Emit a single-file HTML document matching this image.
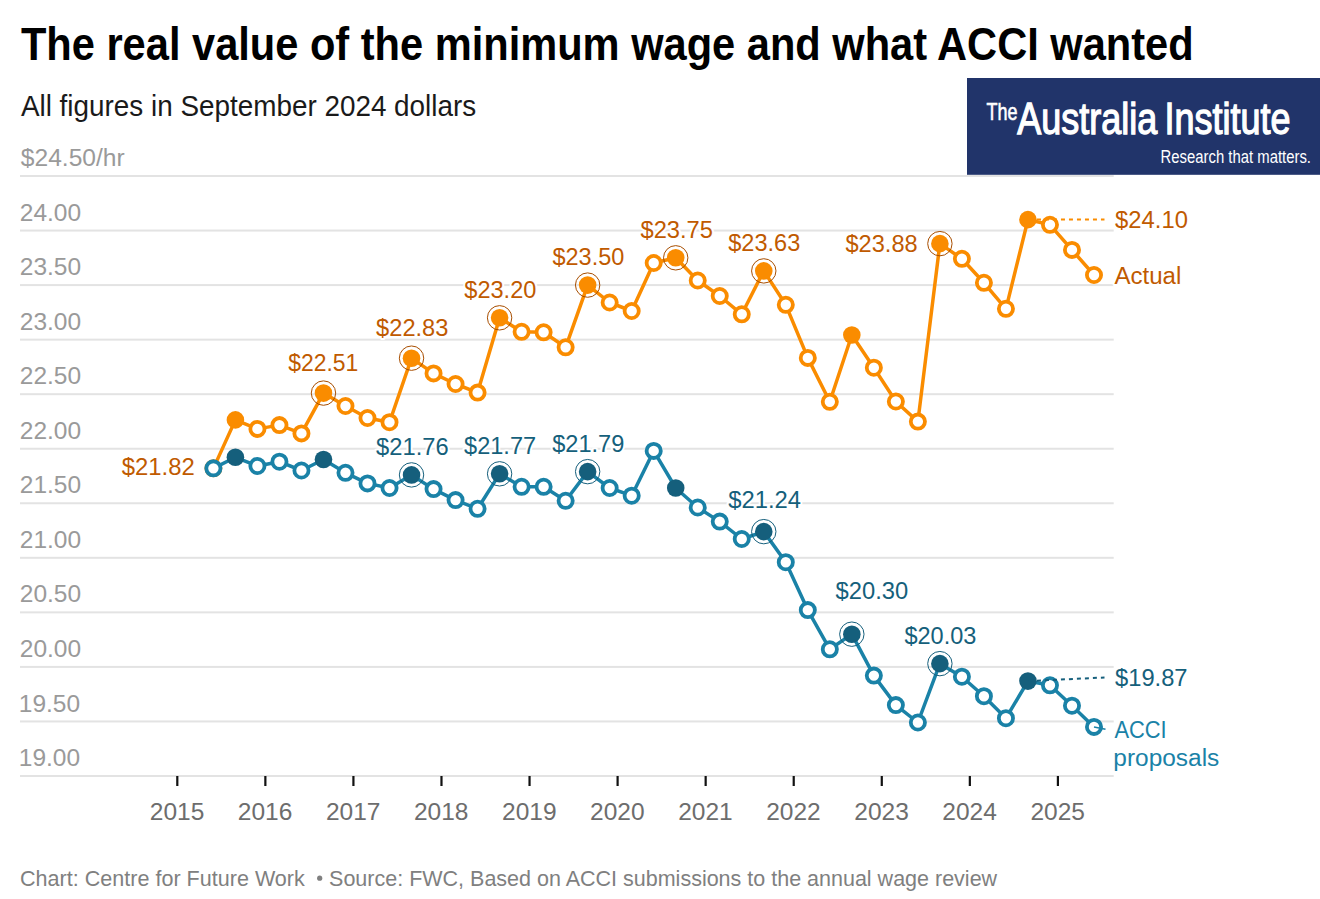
<!DOCTYPE html>
<html><head><meta charset="utf-8"><style>
html,body{margin:0;padding:0;background:#fff;width:1320px;height:899px;overflow:hidden;}
svg{display:block;}
</style></head><body>
<svg width="1320" height="899" viewBox="0 0 1320 899">
<text transform="translate(20.90,60.00) scale(0.9083,1)" font-family="Liberation Sans, sans-serif" font-size="45.8" font-weight="bold" fill="#000" >The real value of the minimum wage and what ACCI wanted</text>
<text transform="translate(20.90,115.80) scale(0.9677,1)" font-family="Liberation Sans, sans-serif" font-size="28.8" font-weight="normal" fill="#1a1a1a" >All figures in September 2024 dollars</text>
<rect x="20" y="175.00" width="1093.7" height="2" fill="#e3e3e3"/>
<rect x="20" y="229.55" width="1093.7" height="2" fill="#e3e3e3"/>
<rect x="20" y="284.09" width="1093.7" height="2" fill="#e3e3e3"/>
<rect x="20" y="338.64" width="1093.7" height="2" fill="#e3e3e3"/>
<rect x="20" y="393.18" width="1093.7" height="2" fill="#e3e3e3"/>
<rect x="20" y="447.73" width="1093.7" height="2" fill="#e3e3e3"/>
<rect x="20" y="502.27" width="1093.7" height="2" fill="#e3e3e3"/>
<rect x="20" y="556.82" width="1093.7" height="2" fill="#e3e3e3"/>
<rect x="20" y="611.36" width="1093.7" height="2" fill="#e3e3e3"/>
<rect x="20" y="665.91" width="1093.7" height="2" fill="#e3e3e3"/>
<rect x="20" y="720.45" width="1093.7" height="2" fill="#e3e3e3"/>
<rect x="20" y="775.00" width="1093.7" height="2" fill="#e3e3e3"/>
<text transform="translate(20.80,165.80) scale(1.0039,1)" font-family="Liberation Sans, sans-serif" font-size="24.5" font-weight="normal" fill="#9a9a9a" >$24.50/hr</text>
<text x="19.80" y="220.65" font-family="Liberation Sans, sans-serif" font-size="24.5" font-weight="normal" fill="#9a9a9a">24.00</text>
<text x="19.80" y="275.19" font-family="Liberation Sans, sans-serif" font-size="24.5" font-weight="normal" fill="#9a9a9a">23.50</text>
<text x="19.80" y="329.74" font-family="Liberation Sans, sans-serif" font-size="24.5" font-weight="normal" fill="#9a9a9a">23.00</text>
<text x="19.80" y="384.28" font-family="Liberation Sans, sans-serif" font-size="24.5" font-weight="normal" fill="#9a9a9a">22.50</text>
<text x="19.80" y="438.83" font-family="Liberation Sans, sans-serif" font-size="24.5" font-weight="normal" fill="#9a9a9a">22.00</text>
<text x="19.80" y="493.37" font-family="Liberation Sans, sans-serif" font-size="24.5" font-weight="normal" fill="#9a9a9a">21.50</text>
<text x="19.80" y="547.92" font-family="Liberation Sans, sans-serif" font-size="24.5" font-weight="normal" fill="#9a9a9a">21.00</text>
<text x="19.80" y="602.46" font-family="Liberation Sans, sans-serif" font-size="24.5" font-weight="normal" fill="#9a9a9a">20.50</text>
<text x="19.80" y="657.01" font-family="Liberation Sans, sans-serif" font-size="24.5" font-weight="normal" fill="#9a9a9a">20.00</text>
<text x="18.80" y="711.55" font-family="Liberation Sans, sans-serif" font-size="24.5" font-weight="normal" fill="#9a9a9a">19.50</text>
<text x="18.80" y="766.10" font-family="Liberation Sans, sans-serif" font-size="24.5" font-weight="normal" fill="#9a9a9a">19.00</text>
<text x="149.80" y="820.10" font-family="Liberation Sans, sans-serif" font-size="24.5" font-weight="normal" fill="#6d6d6d">2015</text>
<text x="237.86" y="820.10" font-family="Liberation Sans, sans-serif" font-size="24.5" font-weight="normal" fill="#6d6d6d">2016</text>
<text x="325.92" y="820.10" font-family="Liberation Sans, sans-serif" font-size="24.5" font-weight="normal" fill="#6d6d6d">2017</text>
<text x="413.98" y="820.10" font-family="Liberation Sans, sans-serif" font-size="24.5" font-weight="normal" fill="#6d6d6d">2018</text>
<text x="502.04" y="820.10" font-family="Liberation Sans, sans-serif" font-size="24.5" font-weight="normal" fill="#6d6d6d">2019</text>
<text x="590.10" y="820.10" font-family="Liberation Sans, sans-serif" font-size="24.5" font-weight="normal" fill="#6d6d6d">2020</text>
<text x="678.16" y="820.10" font-family="Liberation Sans, sans-serif" font-size="24.5" font-weight="normal" fill="#6d6d6d">2021</text>
<text x="766.22" y="820.10" font-family="Liberation Sans, sans-serif" font-size="24.5" font-weight="normal" fill="#6d6d6d">2022</text>
<text x="854.28" y="820.10" font-family="Liberation Sans, sans-serif" font-size="24.5" font-weight="normal" fill="#6d6d6d">2023</text>
<text x="942.34" y="820.10" font-family="Liberation Sans, sans-serif" font-size="24.5" font-weight="normal" fill="#6d6d6d">2024</text>
<text x="1030.40" y="820.10" font-family="Liberation Sans, sans-serif" font-size="24.5" font-weight="normal" fill="#6d6d6d">2025</text>
<rect x="176.20" y="776" width="2.2" height="10" fill="#111"/>
<rect x="264.26" y="776" width="2.2" height="10" fill="#111"/>
<rect x="352.32" y="776" width="2.2" height="10" fill="#111"/>
<rect x="440.38" y="776" width="2.2" height="10" fill="#111"/>
<rect x="528.44" y="776" width="2.2" height="10" fill="#111"/>
<rect x="616.50" y="776" width="2.2" height="10" fill="#111"/>
<rect x="704.56" y="776" width="2.2" height="10" fill="#111"/>
<rect x="792.62" y="776" width="2.2" height="10" fill="#111"/>
<rect x="880.68" y="776" width="2.2" height="10" fill="#111"/>
<rect x="968.74" y="776" width="2.2" height="10" fill="#111"/>
<rect x="1056.80" y="776" width="2.2" height="10" fill="#111"/>
<path d="M213.4,468.36 L235.42,419.9 L257.43,428.9 L279.44,425.1 L301.46,433.4 L323.48,393.09 L345.49,406 L367.5,418 L389.52,422.2 L411.53,358.18 L433.55,373.4 L455.57,384 L477.58,392.6 L499.6,317.82 L521.61,331.8 L543.62,332.3 L565.64,347.3 L587.65,285.09 L609.67,302.5 L631.69,311 L653.7,263 L675.72,257.82 L697.73,280.5 L719.75,296 L741.76,314.3 L763.77,270.91 L785.79,304.8 L807.8,357.9 L829.82,401.8 L851.84,335 L873.85,367.7 L895.87,401.5 L917.88,421.6 L939.89,243.64 L961.91,258.8 L983.92,282.8 L1005.94,308.8 L1027.96,219.64 L1049.97,224.8 L1071.99,249.9 L1094.0,275" fill="none" stroke="#fa8c00" stroke-width="3.5" stroke-linejoin="round"/>
<circle cx="213.4" cy="468.36" r="7.1" fill="#fff" stroke="#fa8c00" stroke-width="3.8"/>
<circle cx="235.42" cy="419.9" r="8.8" fill="#fa8c00"/>
<circle cx="257.43" cy="428.9" r="7.1" fill="#fff" stroke="#fa8c00" stroke-width="3.8"/>
<circle cx="279.44" cy="425.1" r="7.1" fill="#fff" stroke="#fa8c00" stroke-width="3.8"/>
<circle cx="301.46" cy="433.4" r="7.1" fill="#fff" stroke="#fa8c00" stroke-width="3.8"/>
<circle cx="323.48" cy="393.09" r="8.8" fill="#fa8c00"/>
<circle cx="345.49" cy="406" r="7.1" fill="#fff" stroke="#fa8c00" stroke-width="3.8"/>
<circle cx="367.5" cy="418" r="7.1" fill="#fff" stroke="#fa8c00" stroke-width="3.8"/>
<circle cx="389.52" cy="422.2" r="7.1" fill="#fff" stroke="#fa8c00" stroke-width="3.8"/>
<circle cx="411.53" cy="358.18" r="8.8" fill="#fa8c00"/>
<circle cx="433.55" cy="373.4" r="7.1" fill="#fff" stroke="#fa8c00" stroke-width="3.8"/>
<circle cx="455.57" cy="384" r="7.1" fill="#fff" stroke="#fa8c00" stroke-width="3.8"/>
<circle cx="477.58" cy="392.6" r="7.1" fill="#fff" stroke="#fa8c00" stroke-width="3.8"/>
<circle cx="499.6" cy="317.82" r="8.8" fill="#fa8c00"/>
<circle cx="521.61" cy="331.8" r="7.1" fill="#fff" stroke="#fa8c00" stroke-width="3.8"/>
<circle cx="543.62" cy="332.3" r="7.1" fill="#fff" stroke="#fa8c00" stroke-width="3.8"/>
<circle cx="565.64" cy="347.3" r="7.1" fill="#fff" stroke="#fa8c00" stroke-width="3.8"/>
<circle cx="587.65" cy="285.09" r="8.8" fill="#fa8c00"/>
<circle cx="609.67" cy="302.5" r="7.1" fill="#fff" stroke="#fa8c00" stroke-width="3.8"/>
<circle cx="631.69" cy="311" r="7.1" fill="#fff" stroke="#fa8c00" stroke-width="3.8"/>
<circle cx="653.7" cy="263" r="7.1" fill="#fff" stroke="#fa8c00" stroke-width="3.8"/>
<circle cx="675.72" cy="257.82" r="8.8" fill="#fa8c00"/>
<circle cx="697.73" cy="280.5" r="7.1" fill="#fff" stroke="#fa8c00" stroke-width="3.8"/>
<circle cx="719.75" cy="296" r="7.1" fill="#fff" stroke="#fa8c00" stroke-width="3.8"/>
<circle cx="741.76" cy="314.3" r="7.1" fill="#fff" stroke="#fa8c00" stroke-width="3.8"/>
<circle cx="763.77" cy="270.91" r="8.8" fill="#fa8c00"/>
<circle cx="785.79" cy="304.8" r="7.1" fill="#fff" stroke="#fa8c00" stroke-width="3.8"/>
<circle cx="807.8" cy="357.9" r="7.1" fill="#fff" stroke="#fa8c00" stroke-width="3.8"/>
<circle cx="829.82" cy="401.8" r="7.1" fill="#fff" stroke="#fa8c00" stroke-width="3.8"/>
<circle cx="851.84" cy="335" r="8.8" fill="#fa8c00"/>
<circle cx="873.85" cy="367.7" r="7.1" fill="#fff" stroke="#fa8c00" stroke-width="3.8"/>
<circle cx="895.87" cy="401.5" r="7.1" fill="#fff" stroke="#fa8c00" stroke-width="3.8"/>
<circle cx="917.88" cy="421.6" r="7.1" fill="#fff" stroke="#fa8c00" stroke-width="3.8"/>
<circle cx="939.89" cy="243.64" r="8.8" fill="#fa8c00"/>
<circle cx="961.91" cy="258.8" r="7.1" fill="#fff" stroke="#fa8c00" stroke-width="3.8"/>
<circle cx="983.92" cy="282.8" r="7.1" fill="#fff" stroke="#fa8c00" stroke-width="3.8"/>
<circle cx="1005.94" cy="308.8" r="7.1" fill="#fff" stroke="#fa8c00" stroke-width="3.8"/>
<circle cx="1027.96" cy="219.64" r="8.8" fill="#fa8c00"/>
<circle cx="1049.97" cy="224.8" r="7.1" fill="#fff" stroke="#fa8c00" stroke-width="3.8"/>
<circle cx="1071.99" cy="249.9" r="7.1" fill="#fff" stroke="#fa8c00" stroke-width="3.8"/>
<circle cx="1094.0" cy="275" r="7.1" fill="#fff" stroke="#fa8c00" stroke-width="3.8"/>
<circle cx="939.89" cy="243.64" r="12.2" fill="none" stroke="#a84e00" stroke-width="1"/>
<circle cx="587.65" cy="285.09" r="12.2" fill="none" stroke="#a84e00" stroke-width="1"/>
<circle cx="323.48" cy="393.09" r="12.2" fill="none" stroke="#a84e00" stroke-width="1"/>
<circle cx="675.72" cy="257.82" r="12.2" fill="none" stroke="#a84e00" stroke-width="1"/>
<circle cx="411.53" cy="358.18" r="12.2" fill="none" stroke="#a84e00" stroke-width="1"/>
<circle cx="499.6" cy="317.82" r="12.2" fill="none" stroke="#a84e00" stroke-width="1"/>
<circle cx="763.77" cy="270.91" r="12.2" fill="none" stroke="#a84e00" stroke-width="1"/>
<path d="M213.4,468.36 L235.42,457.3 L257.43,466 L279.44,461.7 L301.46,470.5 L323.48,459.5 L345.49,472.8 L367.5,483.4 L389.52,488 L411.53,474.91 L433.55,489.1 L455.57,500.1 L477.58,508.8 L499.6,473.82 L521.61,486.8 L543.62,486.8 L565.64,500.8 L587.65,471.64 L609.67,488 L631.69,495.7 L653.7,450.9 L675.72,488 L697.73,507.5 L719.75,521.6 L741.76,539 L763.77,531.64 L785.79,562.2 L807.8,610.1 L829.82,649.3 L851.84,634.18 L873.85,675.6 L895.87,705.1 L917.88,722.5 L939.89,663.64 L961.91,676.7 L983.92,696.2 L1005.94,718.2 L1027.96,681.09 L1049.97,685.3 L1071.99,705.7 L1094.0,726.9" fill="none" stroke="#1a82a7" stroke-width="3.5" stroke-linejoin="round"/>
<circle cx="213.4" cy="468.36" r="7.1" fill="#fff" stroke="#1a82a7" stroke-width="3.8"/>
<circle cx="235.42" cy="457.3" r="8.8" fill="#155f7c"/>
<circle cx="257.43" cy="466" r="7.1" fill="#fff" stroke="#1a82a7" stroke-width="3.8"/>
<circle cx="279.44" cy="461.7" r="7.1" fill="#fff" stroke="#1a82a7" stroke-width="3.8"/>
<circle cx="301.46" cy="470.5" r="7.1" fill="#fff" stroke="#1a82a7" stroke-width="3.8"/>
<circle cx="323.48" cy="459.5" r="8.8" fill="#155f7c"/>
<circle cx="345.49" cy="472.8" r="7.1" fill="#fff" stroke="#1a82a7" stroke-width="3.8"/>
<circle cx="367.5" cy="483.4" r="7.1" fill="#fff" stroke="#1a82a7" stroke-width="3.8"/>
<circle cx="389.52" cy="488" r="7.1" fill="#fff" stroke="#1a82a7" stroke-width="3.8"/>
<circle cx="411.53" cy="474.91" r="8.8" fill="#155f7c"/>
<circle cx="433.55" cy="489.1" r="7.1" fill="#fff" stroke="#1a82a7" stroke-width="3.8"/>
<circle cx="455.57" cy="500.1" r="7.1" fill="#fff" stroke="#1a82a7" stroke-width="3.8"/>
<circle cx="477.58" cy="508.8" r="7.1" fill="#fff" stroke="#1a82a7" stroke-width="3.8"/>
<circle cx="499.6" cy="473.82" r="8.8" fill="#155f7c"/>
<circle cx="521.61" cy="486.8" r="7.1" fill="#fff" stroke="#1a82a7" stroke-width="3.8"/>
<circle cx="543.62" cy="486.8" r="7.1" fill="#fff" stroke="#1a82a7" stroke-width="3.8"/>
<circle cx="565.64" cy="500.8" r="7.1" fill="#fff" stroke="#1a82a7" stroke-width="3.8"/>
<circle cx="587.65" cy="471.64" r="8.8" fill="#155f7c"/>
<circle cx="609.67" cy="488" r="7.1" fill="#fff" stroke="#1a82a7" stroke-width="3.8"/>
<circle cx="631.69" cy="495.7" r="7.1" fill="#fff" stroke="#1a82a7" stroke-width="3.8"/>
<circle cx="653.7" cy="450.9" r="7.1" fill="#fff" stroke="#1a82a7" stroke-width="3.8"/>
<circle cx="675.72" cy="488" r="8.8" fill="#155f7c"/>
<circle cx="697.73" cy="507.5" r="7.1" fill="#fff" stroke="#1a82a7" stroke-width="3.8"/>
<circle cx="719.75" cy="521.6" r="7.1" fill="#fff" stroke="#1a82a7" stroke-width="3.8"/>
<circle cx="741.76" cy="539" r="7.1" fill="#fff" stroke="#1a82a7" stroke-width="3.8"/>
<circle cx="763.77" cy="531.64" r="8.8" fill="#155f7c"/>
<circle cx="785.79" cy="562.2" r="7.1" fill="#fff" stroke="#1a82a7" stroke-width="3.8"/>
<circle cx="807.8" cy="610.1" r="7.1" fill="#fff" stroke="#1a82a7" stroke-width="3.8"/>
<circle cx="829.82" cy="649.3" r="7.1" fill="#fff" stroke="#1a82a7" stroke-width="3.8"/>
<circle cx="851.84" cy="634.18" r="8.8" fill="#155f7c"/>
<circle cx="873.85" cy="675.6" r="7.1" fill="#fff" stroke="#1a82a7" stroke-width="3.8"/>
<circle cx="895.87" cy="705.1" r="7.1" fill="#fff" stroke="#1a82a7" stroke-width="3.8"/>
<circle cx="917.88" cy="722.5" r="7.1" fill="#fff" stroke="#1a82a7" stroke-width="3.8"/>
<circle cx="939.89" cy="663.64" r="8.8" fill="#155f7c"/>
<circle cx="961.91" cy="676.7" r="7.1" fill="#fff" stroke="#1a82a7" stroke-width="3.8"/>
<circle cx="983.92" cy="696.2" r="7.1" fill="#fff" stroke="#1a82a7" stroke-width="3.8"/>
<circle cx="1005.94" cy="718.2" r="7.1" fill="#fff" stroke="#1a82a7" stroke-width="3.8"/>
<circle cx="1027.96" cy="681.09" r="8.8" fill="#155f7c"/>
<circle cx="1049.97" cy="685.3" r="7.1" fill="#fff" stroke="#1a82a7" stroke-width="3.8"/>
<circle cx="1071.99" cy="705.7" r="7.1" fill="#fff" stroke="#1a82a7" stroke-width="3.8"/>
<circle cx="1094.0" cy="726.9" r="7.1" fill="#fff" stroke="#1a82a7" stroke-width="3.8"/>
<circle cx="939.89" cy="663.64" r="12.2" fill="none" stroke="#155f7c" stroke-width="1"/>
<circle cx="587.65" cy="471.64" r="12.2" fill="none" stroke="#155f7c" stroke-width="1"/>
<circle cx="851.84" cy="634.18" r="12.2" fill="none" stroke="#155f7c" stroke-width="1"/>
<circle cx="411.53" cy="474.91" r="12.2" fill="none" stroke="#155f7c" stroke-width="1"/>
<circle cx="499.6" cy="473.82" r="12.2" fill="none" stroke="#155f7c" stroke-width="1"/>
<circle cx="763.77" cy="531.64" r="12.2" fill="none" stroke="#155f7c" stroke-width="1"/>
<line x1="1027.96" y1="219.64" x2="1104.5" y2="219.4" stroke="#fa8c00" stroke-width="2" stroke-dasharray="4 4" stroke-dashoffset="-1"/>
<line x1="1027.96" y1="681.09" x2="1104.5" y2="677.5" stroke="#155f7c" stroke-width="2" stroke-dasharray="4 4" stroke-dashoffset="-1"/>
<line x1="1094" y1="727" x2="1105.5" y2="729.2" stroke="#1a82a7" stroke-width="1.6"/>
<text transform="translate(121.80,474.70) scale(0.9743,1)" font-family="Liberation Sans, sans-serif" font-size="24.5" font-weight="normal" fill="#c05a00" stroke="#fff" stroke-width="4" stroke-linejoin="round" paint-order="stroke">$21.82</text>
<text transform="translate(288.20,371.10) scale(0.9365,1)" font-family="Liberation Sans, sans-serif" font-size="24.5" font-weight="normal" fill="#c05a00" stroke="#fff" stroke-width="4" stroke-linejoin="round" paint-order="stroke">$22.51</text>
<text transform="translate(376.10,335.70) scale(0.9649,1)" font-family="Liberation Sans, sans-serif" font-size="24.5" font-weight="normal" fill="#c05a00" stroke="#fff" stroke-width="4" stroke-linejoin="round" paint-order="stroke">$22.83</text>
<text transform="translate(464.30,298.00) scale(0.9622,1)" font-family="Liberation Sans, sans-serif" font-size="24.5" font-weight="normal" fill="#c05a00" stroke="#fff" stroke-width="4" stroke-linejoin="round" paint-order="stroke">$23.20</text>
<text transform="translate(552.50,264.70) scale(0.9581,1)" font-family="Liberation Sans, sans-serif" font-size="24.5" font-weight="normal" fill="#c05a00" stroke="#fff" stroke-width="4" stroke-linejoin="round" paint-order="stroke">$23.50</text>
<text transform="translate(640.50,238.00) scale(0.9676,1)" font-family="Liberation Sans, sans-serif" font-size="24.5" font-weight="normal" fill="#c05a00" stroke="#fff" stroke-width="4" stroke-linejoin="round" paint-order="stroke">$23.75</text>
<text transform="translate(728.20,250.60) scale(0.9622,1)" font-family="Liberation Sans, sans-serif" font-size="24.5" font-weight="normal" fill="#c05a00" stroke="#fff" stroke-width="4" stroke-linejoin="round" paint-order="stroke">$23.63</text>
<text transform="translate(845.50,251.80) scale(0.9635,1)" font-family="Liberation Sans, sans-serif" font-size="24.5" font-weight="normal" fill="#c05a00" stroke="#fff" stroke-width="4" stroke-linejoin="round" paint-order="stroke">$23.88</text>
<text transform="translate(1115.10,227.90) scale(0.9716,1)" font-family="Liberation Sans, sans-serif" font-size="24.5" font-weight="normal" fill="#c05a00" stroke="#fff" stroke-width="4" stroke-linejoin="round" paint-order="stroke">$24.10</text>
<text transform="translate(1114.40,284.00) scale(0.9821,1)" font-family="Liberation Sans, sans-serif" font-size="24.5" font-weight="normal" fill="#c05a00" stroke="#fff" stroke-width="4" stroke-linejoin="round" paint-order="stroke">Actual</text>
<text transform="translate(376.10,454.90) scale(0.9676,1)" font-family="Liberation Sans, sans-serif" font-size="24.5" font-weight="normal" fill="#15607b" stroke="#fff" stroke-width="4" stroke-linejoin="round" paint-order="stroke">$21.76</text>
<text transform="translate(464.10,454.30) scale(0.9608,1)" font-family="Liberation Sans, sans-serif" font-size="24.5" font-weight="normal" fill="#15607b" stroke="#fff" stroke-width="4" stroke-linejoin="round" paint-order="stroke">$21.77</text>
<text transform="translate(552.20,451.90) scale(0.9622,1)" font-family="Liberation Sans, sans-serif" font-size="24.5" font-weight="normal" fill="#15607b" stroke="#fff" stroke-width="4" stroke-linejoin="round" paint-order="stroke">$21.79</text>
<text transform="translate(728.20,507.80) scale(0.9716,1)" font-family="Liberation Sans, sans-serif" font-size="24.5" font-weight="normal" fill="#15607b" stroke="#fff" stroke-width="4" stroke-linejoin="round" paint-order="stroke">$21.24</text>
<text transform="translate(835.50,598.90) scale(0.9703,1)" font-family="Liberation Sans, sans-serif" font-size="24.5" font-weight="normal" fill="#15607b" stroke="#fff" stroke-width="4" stroke-linejoin="round" paint-order="stroke">$20.30</text>
<text transform="translate(904.40,643.80) scale(0.9608,1)" font-family="Liberation Sans, sans-serif" font-size="24.5" font-weight="normal" fill="#15607b" stroke="#fff" stroke-width="4" stroke-linejoin="round" paint-order="stroke">$20.03</text>
<text transform="translate(1115.00,685.80) scale(0.9689,1)" font-family="Liberation Sans, sans-serif" font-size="24.5" font-weight="normal" fill="#15607b" stroke="#fff" stroke-width="4" stroke-linejoin="round" paint-order="stroke">$19.87</text>
<text transform="translate(1114.40,737.70) scale(0.8930,1)" font-family="Liberation Sans, sans-serif" font-size="24.5" font-weight="normal" fill="#1a82a7" stroke="#fff" stroke-width="4" stroke-linejoin="round" paint-order="stroke">ACCI</text>
<text transform="translate(1113.30,765.60) scale(0.9981,1)" font-family="Liberation Sans, sans-serif" font-size="24.5" font-weight="normal" fill="#1a82a7" stroke="#fff" stroke-width="4" stroke-linejoin="round" paint-order="stroke">proposals</text>
<text transform="translate(19.95,885.90) scale(0.9463,1)" font-family="Liberation Sans, sans-serif" font-size="22.8" font-weight="normal" fill="#808080" >Chart: Centre for Future Work</text>
<text transform="translate(329.06,885.90) scale(0.9434,1)" font-family="Liberation Sans, sans-serif" font-size="22.8" font-weight="normal" fill="#808080" >Source: FWC, Based on ACCI submissions to the annual wage review</text>
<circle cx="319.7" cy="878.2" r="2.6" fill="#808080"/>
<rect x="967" y="78" width="353" height="96.8" fill="#21346a"/>
<text x="986.4" y="120" font-family="Liberation Sans, sans-serif" font-size="23.8" fill="#fff" stroke="#fff" stroke-width="0.6" textLength="31" lengthAdjust="spacingAndGlyphs">The</text>
<text x="1017.3" y="134.4" font-family="Liberation Sans, sans-serif" font-size="44" fill="#fff" stroke="#fff" stroke-width="1.3" textLength="140" lengthAdjust="spacingAndGlyphs">Australia</text>
<text x="1164.5" y="134.4" font-family="Liberation Sans, sans-serif" font-size="44" fill="#fff" stroke="#fff" stroke-width="1.3" textLength="126" lengthAdjust="spacingAndGlyphs">Institute</text>
<text x="1160.5" y="162.7" font-family="Liberation Sans, sans-serif" font-size="18.3" fill="#fff" textLength="150.5" lengthAdjust="spacingAndGlyphs">Research that matters.</text>
</svg>
</body></html>
